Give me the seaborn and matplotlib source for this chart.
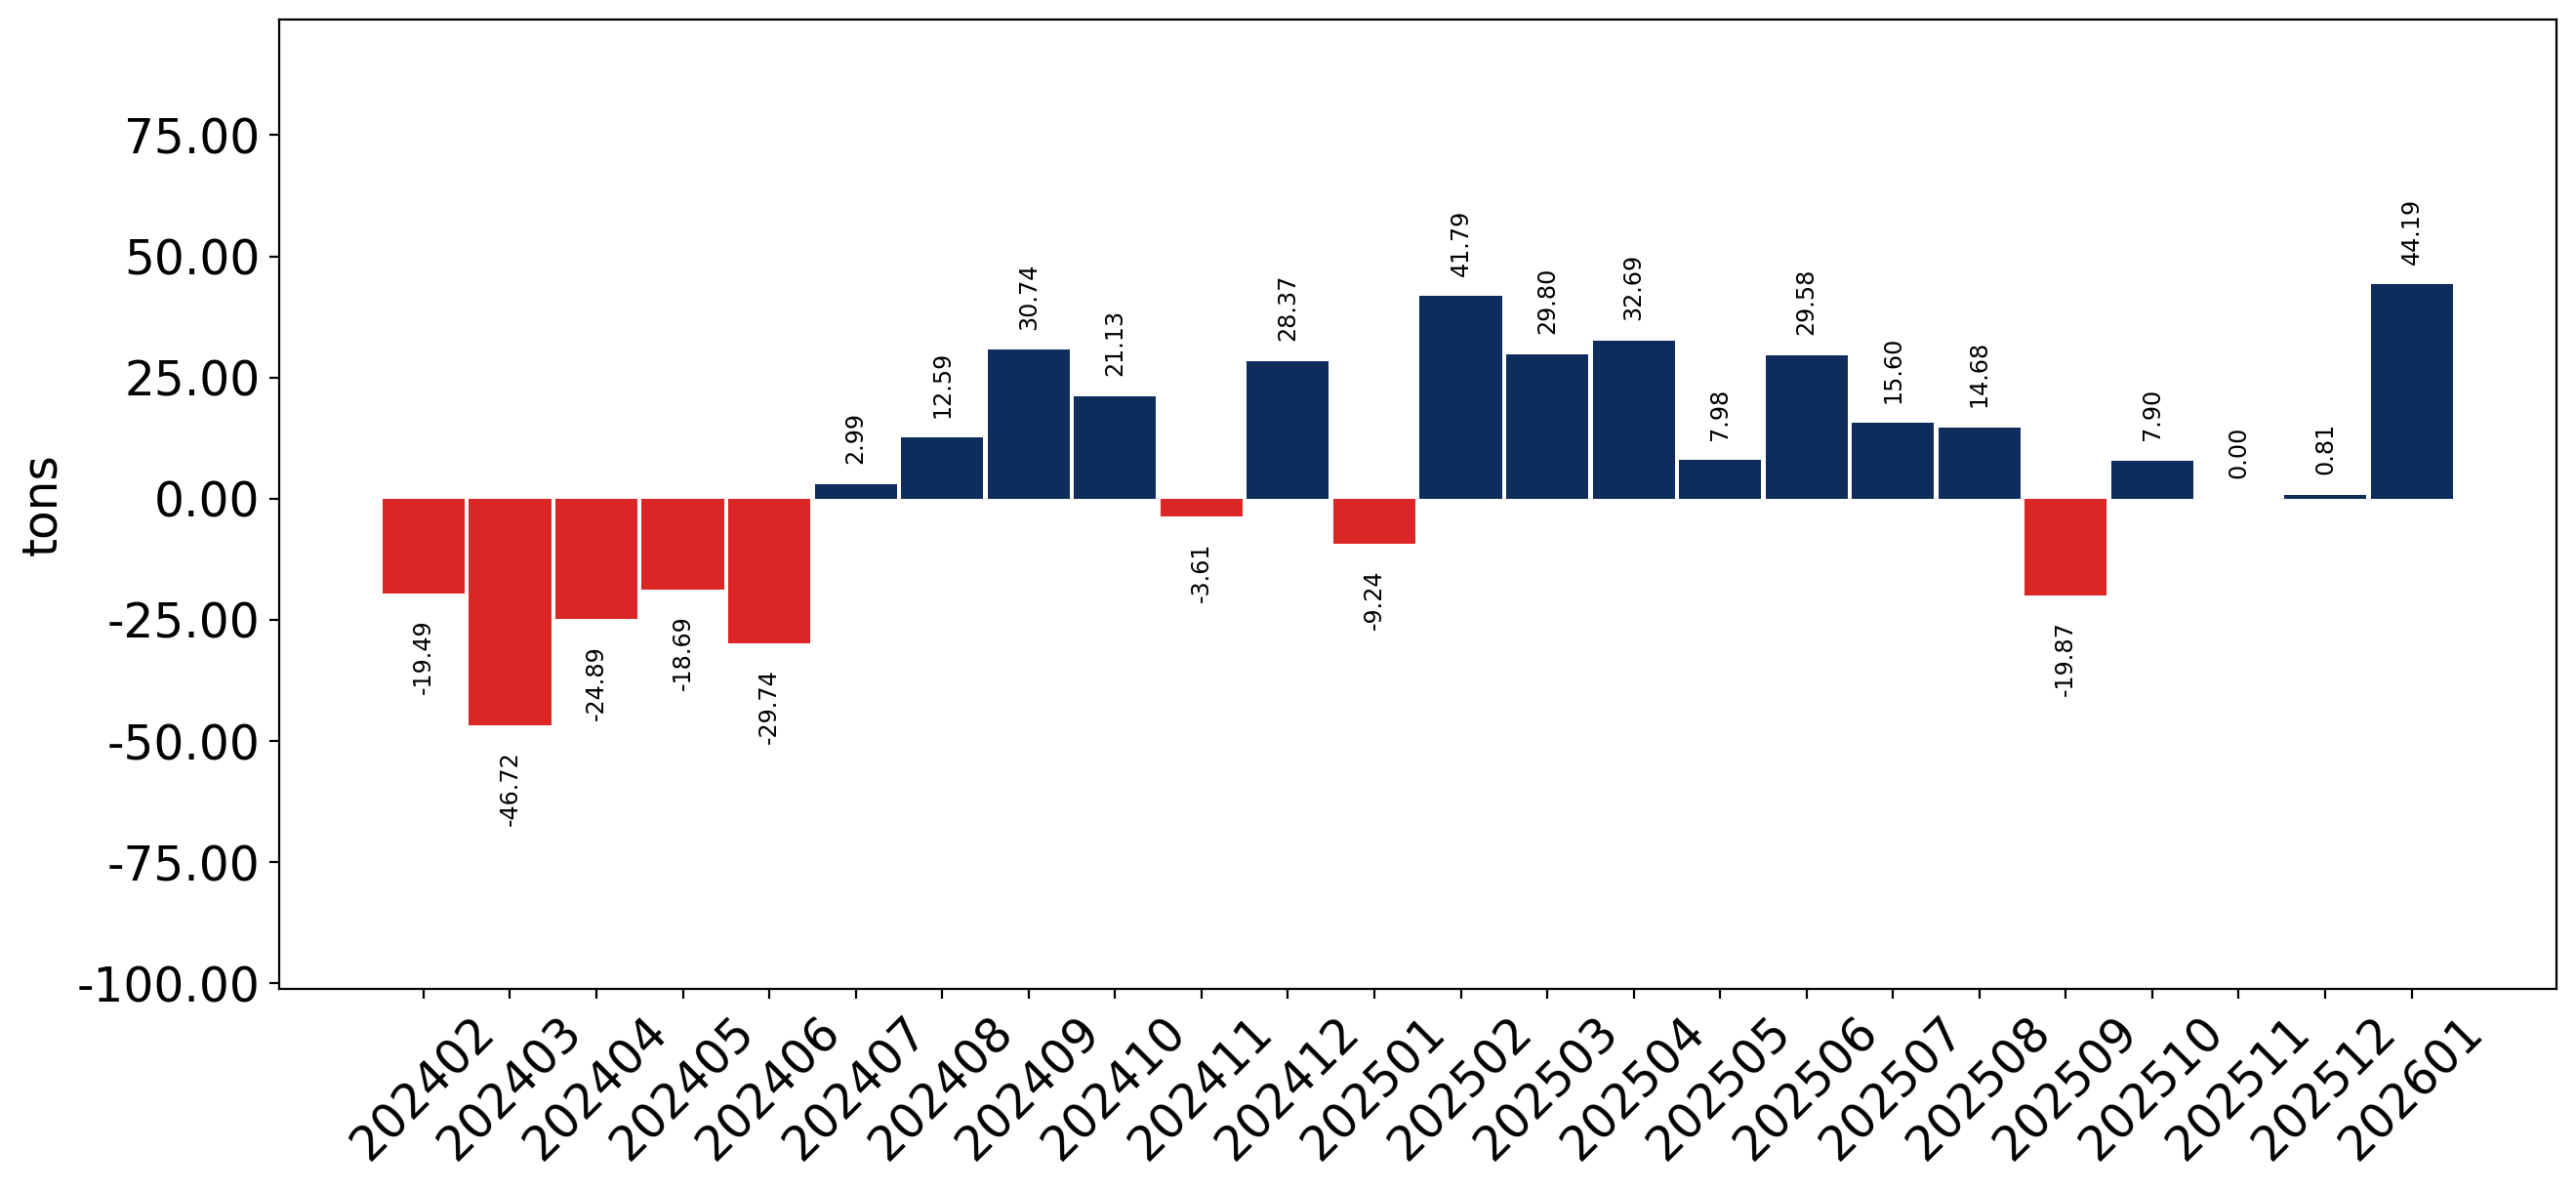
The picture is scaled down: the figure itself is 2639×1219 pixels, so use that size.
import numpy as np
import pandas as pd
import matplotlib
matplotlib.use('Agg')
import matplotlib.pyplot as plt
import seaborn as sns

# DATA
months = ['202402', '202403', '202404', '202405', '202406', '202407', '202408', '202409',
          '202410', '202411', '202412', '202501', '202502', '202503', '202504', '202505',
          '202506', '202507', '202508', '202509', '202510', '202511', '202512', '202601']
values = [-19.49, -46.72, -24.89, -18.69, -29.74, 2.99, 12.59, 30.74,
          21.13, -3.61, 28.37, -9.24, 41.79, 29.80, 32.69, 7.98,
          29.58, 15.60, 14.68, -19.87, 7.90, 0.00, 0.81, 44.19]
y_ticks = [-100, -75, -50, -25, 0, 25, 50, 75]

RED = '#DC2626'
NAVY = '#0E2C5C'

df = pd.DataFrame({'month': months, 'value': values})
df['sign'] = np.where(df['value'] >= 0, 'pos', 'neg')

fig, ax = plt.subplots(figsize=(13.195, 6.095), dpi=200)
fig.subplots_adjust(left=0.1083, right=0.9923, bottom=0.1687, top=0.9838)

sns.barplot(
    data=df, x='month', y='value', hue='sign',
    palette={'pos': NAVY, 'neg': RED},
    width=0.95, dodge=False, saturation=1,
    legend=False, ax=ax,
)

# value labels above / below the bars
for i, v in enumerate(values):
    if v >= 0:
        ax.annotate(f"{v:.2f}", (i, v), xytext=(0, 7.4), textcoords='offset points',
                    ha='center', va='bottom', rotation=90, fontsize=8.6)
    else:
        ax.annotate(f"{v:.2f}", (i, v), xytext=(0, -9.5), textcoords='offset points',
                    ha='center', va='top', rotation=90, fontsize=8.6)

n = len(months)
ax.set_xlim(-0.475 - 1.1975, n - 1 + 0.475 + 1.1975)
ax.set_ylim(-101.2, 98.9)
ax.set_yticks(y_ticks)
ax.set_yticklabels([f"{t:.2f}" for t in y_ticks])

ax.tick_params(axis='both', labelsize=17.5)
plt.setp(ax.get_xticklabels(), rotation=45, ha='center')

ax.set_xlabel('')
ax.set_ylabel('tons', fontsize=17.5)

plt.savefig('out.png', dpi=200)
plt.close()
